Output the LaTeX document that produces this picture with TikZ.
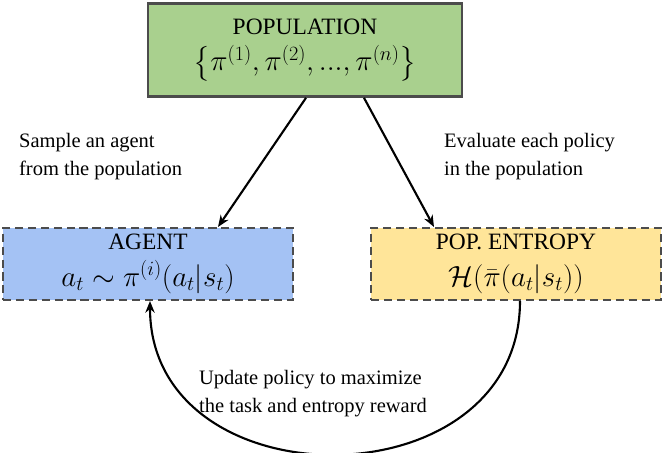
\documentclass[tikz,border=0pt]{standalone}
\usepackage{amsmath}
\usepackage{fontspec}
\setmainfont{Liberation Serif}
\usetikzlibrary{positioning,arrows.meta}
\definecolor{popgreen}{RGB}{169,208,142}
\definecolor{agentblue}{RGB}{164,194,244}
\definecolor{entyellow}{RGB}{255,229,153}
\newcommand{\mathbig}{\fontsize{24}{28}\selectfont}
\tikzset{
  box/.style={draw=black!70, line width=2pt, minimum width=8.7cm, minimum height=2.15cm, align=center, font=\fontsize{20}{26}\selectfont},
  dashbox/.style={box, dash pattern=on 7pt off 4pt},
  lbl/.style={align=left, anchor=west, font=\fontsize{17.5}{24}\selectfont},
  arr/.style={-{Stealth[length=10pt,width=8pt]}, line width=1.8pt}
}
\begin{document}
\begin{tikzpicture}[x=0.03cm,y=-0.03cm]
            \useasboundingbox (0,0) rectangle (666,453);
            % Cajas
            \node[box, fill=popgreen, minimum width=9.4cm, minimum height=2.8cm] (pop) at (305,50) {POPULATION\\[5pt]{\mathbig$\bigl\{\pi^{(1)},\pi^{(2)},...,\pi^{(n)}\bigr\}$}};
            \node[dashbox, fill=agentblue] (agent) at (148,264) {AGENT\\[5pt]{\mathbig$a_t\sim\pi^{(i)}(a_t|s_t)$}};
            \node[dashbox, fill=entyellow] (ent) at (516,264) {POP. ENTROPY\\[5pt]{\mathbig$\mathcal{H}(\bar{\pi}(a_t|s_t))$}};
            % Flechas
            \draw[arr] (pop.south -| 306,0) -- (agent.north -| 218,0);
            \draw[arr] (pop.south -| 364,0) -- (ent.north -| 434,0);
            \draw[arr] (ent.south -| 520,0) .. controls (520,505) and (150,505) .. (agent.south -| 150,0);
            % Etiquetas
            \node[lbl] (lsample) at (15,157) {Sample an agent\\from the population};
            \node[lbl] (leval) at (440,157) {Evaluate each policy\\in the population};
            \node[lbl] (lupdate) at (195,394) {Update policy to maximize\\the task and entropy reward};
\end{tikzpicture}
\end{document}
